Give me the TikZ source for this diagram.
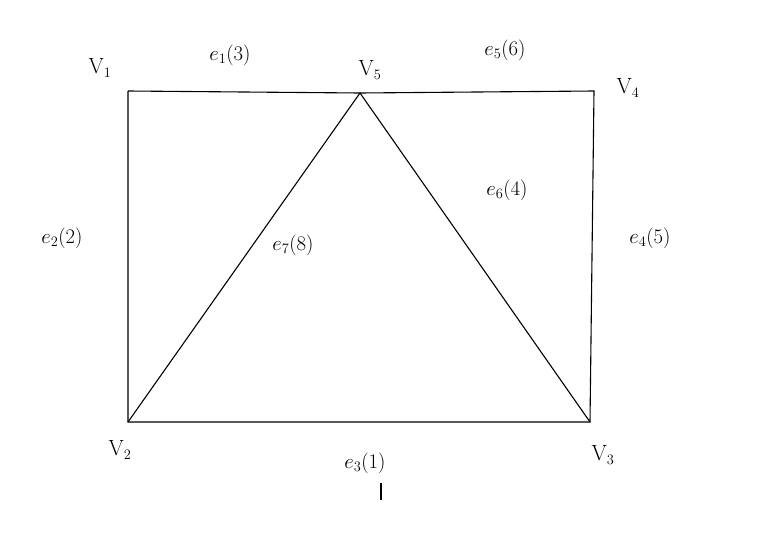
\documentclass[tikz,border=0pt]{standalone}
\begin{document}
\begin{tikzpicture}[x=1pt,y=-1pt,
  lbl/.style={font=\fontsize{22}{26}\selectfont, inner sep=1pt},
  edge/.style={line width=1.1pt, black},
  pt/.style={coordinate}]
\useasboundingbox (0,0) rectangle (768,541);
\coordinate (v1) at (128,91);
\coordinate (v4) at (594,91);
\coordinate (v2) at (128,422);
\coordinate (v3) at (590,422);
\coordinate (v5) at (360,93);
\draw[edge] (v1) -- (v5) -- (v4) -- (v3) -- (v2) -- (v1);
\draw[edge] (v2) -- (v5) -- (v3);
\coordinate (t1) at (381,483);
\coordinate (t2) at (381,500);
\draw[edge] (t1) -- (t2);
\node[lbl] (l1) at (100,68) {V$_1$};
\node[lbl] (l5) at (370,70) {V$_5$};
\node[lbl] (l4) at (628,88) {V$_4$};
\node[lbl] (l2) at (120,450) {V$_2$};
\node[lbl] (l3) at (603,455) {V$_3$};
\node[lbl] (e1) at (230,55) {$e_1(3)$};
\node[lbl] (e5) at (505,50) {$e_5(6)$};
\node[lbl] (e2) at (62,238) {$e_2(2)$};
\node[lbl] (e7) at (293,245) {$e_7(8)$};
\node[lbl] (e6) at (507,190) {$e_6(4)$};
\node[lbl] (e4) at (650,238) {$e_4(5)$};
\node[lbl] (e3) at (365,463) {$e_3(1)$};
\end{tikzpicture}
\end{document}
